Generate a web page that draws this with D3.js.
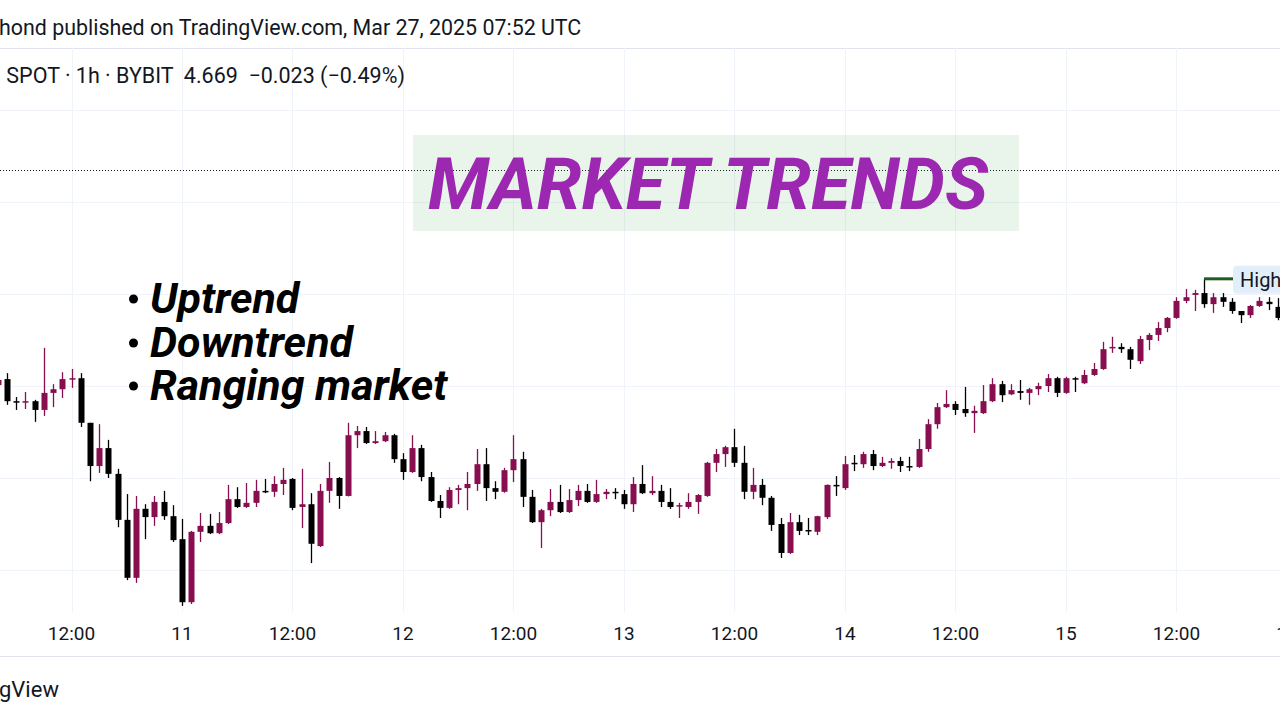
<!DOCTYPE html>
<html>
<head>
<meta charset="utf-8">
<script src="https://cdn.jsdelivr.net/npm/d3@7"></script>
<style>
	body { margin: 0; background: #fff; overflow: hidden; }
	#chart svg { display: block; font-family: Roboto, "Noto Sans", sans-serif; }
</style>
</head>
<body>
<div id="chart"></div>
<script>
/* hourly candles, first one opens Mar 10 04:00 UTC */
const firstCandle = Date.UTC(2025, 2, 10, 4);

const opens = [
	4.202, 4.215, 4.167, 4.165, 4.167, 4.148, 4.185, 4.193, 4.215, 4.217,
	4.120, 4.026, 4.065, 4.009, 3.909, 3.783, 3.933, 3.915, 3.948, 3.917,
	3.867, 3.730, 3.883, 3.896, 3.880, 3.902, 3.954, 3.937, 3.946, 3.972,
	3.970, 3.987, 3.998, 3.937, 3.943, 3.852, 3.972, 4.000, 3.961, 4.093,
	4.102, 4.076, 4.080, 4.093, 4.041, 4.013, 4.065, 4.002, 3.950, 3.935,
	3.974, 3.978, 3.987, 4.030, 3.978, 3.970, 4.017, 4.041, 3.959, 3.904,
	3.930, 3.948, 3.926, 3.952, 3.972, 3.948, 3.965, 3.970, 3.965, 3.943,
	3.987, 3.967, 3.972, 3.948, 3.939, 3.937, 3.948, 3.961, 4.033, 4.052,
	4.067, 4.033, 3.970, 3.985, 3.957, 3.900, 3.837, 3.904, 3.887, 3.883,
	3.915, 3.985, 3.978, 4.033, 4.030, 4.052, 4.026, 4.033, 4.037, 4.026,
	4.024, 4.063, 4.117, 4.154, 4.161, 4.150, 4.141, 4.141, 4.167, 4.204,
	4.182, 4.189, 4.185, 4.193, 4.200, 4.217, 4.185, 4.217, 4.206, 4.224,
	4.237, 4.283, 4.285, 4.280, 4.254, 4.300, 4.311, 4.326, 4.348, 4.385,
	4.398, 4.402, 4.378, 4.393, 4.383, 4.363, 4.354, 4.374, 4.383, 4.372
];
const highs = [
	4.220, 4.228, 4.176, 4.187, 4.170, 4.283, 4.204, 4.230, 4.237, 4.228,
	4.120, 4.117, 4.083, 4.020, 3.965, 3.961, 3.943, 3.961, 3.972, 3.941,
	3.911, 3.885, 3.924, 3.922, 3.926, 3.985, 3.980, 3.989, 3.996, 3.998,
	4.004, 4.022, 4.000, 4.020, 3.967, 3.987, 4.035, 4.002, 4.120, 4.113,
	4.111, 4.102, 4.100, 4.096, 4.054, 4.093, 4.072, 4.013, 3.963, 3.980,
	3.985, 4.013, 4.063, 4.065, 3.993, 4.022, 4.093, 4.057, 3.974, 3.933,
	3.976, 3.985, 3.976, 3.985, 3.987, 3.996, 3.976, 3.978, 3.974, 4.002,
	4.028, 4.004, 3.985, 3.978, 3.946, 3.967, 3.965, 4.035, 4.063, 4.070,
	4.107, 4.070, 4.022, 3.998, 3.961, 3.913, 3.924, 3.920, 3.913, 3.918,
	3.986, 4.004, 4.048, 4.050, 4.057, 4.061, 4.046, 4.043, 4.046, 4.046,
	4.085, 4.128, 4.163, 4.191, 4.167, 4.198, 4.157, 4.202, 4.217, 4.211,
	4.204, 4.213, 4.196, 4.207, 4.226, 4.220, 4.220, 4.220, 4.235, 4.250,
	4.296, 4.307, 4.293, 4.285, 4.309, 4.315, 4.339, 4.350, 4.393, 4.411,
	4.409, 4.433, 4.402, 4.402, 4.391, 4.363, 4.376, 4.393, 4.393, 4.391
];
const lows = [
	4.196, 4.159, 4.148, 4.150, 4.122, 4.135, 4.154, 4.174, 4.196, 4.111,
	3.993, 4.011, 4.000, 3.893, 3.778, 3.772, 3.867, 3.896, 3.909, 3.861,
	3.722, 3.726, 3.861, 3.878, 3.878, 3.900, 3.935, 3.935, 3.937, 3.967,
	3.959, 3.963, 3.930, 3.891, 3.815, 3.850, 3.946, 3.933, 3.960, 4.065,
	4.074, 4.074, 4.078, 4.033, 3.996, 4.011, 3.993, 3.948, 3.913, 3.933,
	3.943, 3.930, 3.972, 3.950, 3.954, 3.968, 3.991, 3.937, 3.902, 3.848,
	3.917, 3.924, 3.924, 3.939, 3.946, 3.946, 3.954, 3.954, 3.933, 3.926,
	3.965, 3.963, 3.937, 3.933, 3.913, 3.933, 3.922, 3.959, 4.013, 4.024,
	4.024, 3.954, 3.954, 3.941, 3.885, 3.826, 3.835, 3.876, 3.876, 3.876,
	3.911, 3.961, 3.974, 4.015, 4.022, 4.017, 4.024, 4.020, 4.013, 4.015,
	4.022, 4.057, 4.107, 4.152, 4.137, 4.133, 4.098, 4.139, 4.165, 4.165,
	4.180, 4.170, 4.159, 4.180, 4.187, 4.176, 4.183, 4.187, 4.204, 4.222,
	4.235, 4.272, 4.272, 4.237, 4.248, 4.278, 4.298, 4.317, 4.346, 4.380,
	4.363, 4.370, 4.359, 4.372, 4.357, 4.337, 4.348, 4.372, 4.365, 4.343
];
const closes = [
	4.213, 4.167, 4.165, 4.167, 4.148, 4.185, 4.193, 4.215, 4.217, 4.120,
	4.026, 4.065, 4.009, 3.909, 3.783, 3.933, 3.915, 3.948, 3.917, 3.865,
	3.730, 3.883, 3.896, 3.880, 3.902, 3.954, 3.937, 3.946, 3.972, 3.970,
	3.987, 3.996, 3.935, 3.943, 3.857, 3.972, 4.000, 3.961, 4.093, 4.102,
	4.076, 4.080, 4.093, 4.041, 4.013, 4.065, 4.002, 3.950, 3.935, 3.974,
	3.978, 3.987, 4.030, 3.978, 3.970, 4.017, 4.041, 3.959, 3.904, 3.930,
	3.948, 3.926, 3.952, 3.972, 3.948, 3.965, 3.970, 3.967, 3.943, 3.987,
	3.967, 3.972, 3.948, 3.937, 3.941, 3.948, 3.963, 4.033, 4.052, 4.067,
	4.033, 3.970, 3.985, 3.957, 3.898, 3.837, 3.904, 3.885, 3.885, 3.917,
	3.985, 3.983, 4.030, 4.030, 4.052, 4.026, 4.033, 4.037, 4.026, 4.024,
	4.063, 4.117, 4.154, 4.161, 4.148, 4.141, 4.146, 4.167, 4.204, 4.180,
	4.191, 4.185, 4.193, 4.200, 4.217, 4.185, 4.217, 4.215, 4.224, 4.237,
	4.280, 4.285, 4.280, 4.257, 4.302, 4.311, 4.326, 4.348, 4.385, 4.393,
	4.402, 4.378, 4.393, 4.383, 4.363, 4.354, 4.374, 4.385, 4.378, 4.348
];

const priceTicks = [3.8, 4.0, 4.2, 4.4, 4.6, 4.8];
const lastPrice = 4.669;

const headerText = "hond published on TradingView.com, Mar 27, 2025 07:52 UTC";
const legendText = " SPOT \u00b7 1h \u00b7 BYBIT  4.669  \u22120.023 (\u22120.49%)";
const titleText = "MARKET TRENDS";
const bullets = ["Uptrend", "Downtrend", "Ranging market"];
const footerText = "gView";

const width = 1280,
	height = 720,
	paneTop = 48,
	paneBottom = 612,
	barPx = 9.208,
	upColor = "#880e4f",
	downColor = "#000000",
	gridColor = "#f0f3fa",
	textColor = "#131722";

const candles = opens.map(function (o, i) {
	return {
		time: new Date(firstCandle + i * 3600 * 1000),
		open: o, high: highs[i], low: lows[i], close: closes[i]
	};
});

/* Mar 11 00:00 sits at x=182, one bar per hour */
var x = d3.scaleUtc()
	.domain([new Date(Date.UTC(2025, 2, 10)), new Date(Date.UTC(2025, 2, 16))])
	.range([182 - 24 * barPx, 182 + 120 * barPx]);

var y = d3.scaleLinear()
	.domain([3.8, 4.8])
	.range([570, 110]);

var svg = d3.select("#chart").append("svg")
	.attr("width", width)
	.attr("height", height);

svg.append("rect").attr("width", width).attr("height", height).attr("fill", "#fff");

svg.append("defs").append("clipPath").attr("id", "pane")
	.append("rect").attr("x", 0).attr("y", paneTop).attr("width", width).attr("height", paneBottom - paneTop);

/* header */
svg.append("text")
	.attr("x", -1).attr("y", 35)
	.attr("font-size", 21.4).attr("fill", textColor)
	.text(headerText);

svg.append("line")
	.attr("x1", 0).attr("x2", width).attr("y1", paneTop + 0.5).attr("y2", paneTop + 0.5)
	.attr("stroke", "#e0e3eb");

var pane = svg.append("g").attr("clip-path", "url(#pane)");

/* grid */
var timeTicks = x.ticks(d3.utcHour.every(12));

pane.selectAll(".vgrid")
	.data(timeTicks)
	.enter().append("line")
	.attr("class", "vgrid")
	.attr("x1", function (d) { return Math.round(x(d)) + 0.5; })
	.attr("x2", function (d) { return Math.round(x(d)) + 0.5; })
	.attr("y1", paneTop).attr("y2", paneBottom)
	.attr("stroke", gridColor);

pane.selectAll(".hgrid")
	.data(priceTicks)
	.enter().append("line")
	.attr("class", "hgrid")
	.attr("x1", 0).attr("x2", width)
	.attr("y1", function (d) { return Math.round(y(d)) + 0.5; })
	.attr("y2", function (d) { return Math.round(y(d)) + 0.5; })
	.attr("stroke", gridColor);

/* last price line */
pane.append("line")
	.attr("x1", 0).attr("x2", width)
	.attr("y1", Math.round(y(lastPrice)) + 0.5).attr("y2", Math.round(y(lastPrice)) + 0.5)
	.attr("stroke", textColor)
	.attr("stroke-dasharray", "1,2");

/* candles */
var bars = pane.selectAll(".candle")
	.data(candles)
	.enter().append("g")
	.attr("class", "candle")
	.attr("fill", function (d) { return d.close >= d.open ? upColor : downColor; })
	.attr("stroke", function (d) { return d.close >= d.open ? upColor : downColor; });

bars.append("line")
	.attr("x1", function (d) { return Math.round(x(d.time)) + 0.5; })
	.attr("x2", function (d) { return Math.round(x(d.time)) + 0.5; })
	.attr("y1", function (d) { return y(d.high); })
	.attr("y2", function (d) { return y(d.low); })
	.attr("stroke-width", 1.3);

bars.append("rect")
	.attr("stroke", "none")
	.attr("x", function (d) { return Math.round(x(d.time)) - 2.5; })
	.attr("width", 6)
	.attr("y", function (d) { return y(Math.max(d.open, d.close)); })
	.attr("height", function (d) { return Math.max(1.5, Math.abs(y(d.open) - y(d.close))); });

/* high marker of the visible range */
var peak = candles.reduce(function (a, b) { return b.high > a.high ? b : a; });
var hx = Math.round(x(peak.time)), hy = y(peak.high);

pane.append("line")
	.attr("x1", hx).attr("x2", hx + 30)
	.attr("y1", hy).attr("y2", hy)
	.attr("stroke", "#1b5e20").attr("stroke-width", 3);

pane.append("rect")
	.attr("x", hx + 29).attr("y", hy - 13).attr("width", 70).attr("height", 28)
	.attr("rx", 4).attr("fill", "#e3eefb");

pane.append("text")
	.attr("x", hx + 36).attr("y", hy + 8)
	.attr("font-size", 20).attr("fill", textColor)
	.text("High");

/* legend */
pane.append("text")
	.attr("x", 1).attr("y", 83)
	.attr("font-size", 21.5).attr("fill", textColor)
	.attr("xml:space", "preserve")
	.style("white-space", "pre")
	.text(legendText);

/* title box */
pane.append("rect")
	.attr("x", 413).attr("y", 135).attr("width", 606).attr("height", 96)
	.attr("fill", "#4caf50").attr("fill-opacity", 0.12);

pane.append("text")
	.attr("x", 708).attr("y", 209)
	.attr("text-anchor", "middle")
	.attr("font-size", 72).attr("font-weight", 700).attr("font-style", "italic")
	.attr("fill", "#9c27b0")
	.text(titleText);

/* bullet list */
var list = pane.selectAll(".bullet")
	.data(bullets)
	.enter().append("g")
	.attr("class", "bullet")
	.attr("transform", function (d, i) { return "translate(0," + [313, 357, 400][i] + ")"; });

list.append("circle")
	.attr("cx", 133.5).attr("cy", -14)
	.attr("r", 4.5)
	.attr("fill", "#000");

list.append("text")
	.attr("x", 150)
	.attr("font-size", 43).attr("font-weight", 700).attr("font-style", "italic")
	.attr("fill", "#000")
	.text(function (d) { return d; });

/* time axis */
svg.selectAll(".tlabel")
	.data(timeTicks)
	.enter().append("text")
	.attr("class", "tlabel")
	.attr("x", function (d) { return x(d); })
	.attr("y", 640)
	.attr("text-anchor", "middle")
	.attr("font-size", 19).attr("fill", textColor)
	.text(function (d) {
		return d.getUTCHours() === 0 ? d3.utcFormat("%-d")(d) : d3.utcFormat("%H:%M")(d);
	});

svg.append("line")
	.attr("x1", 0).attr("x2", width).attr("y1", 656.5).attr("y2", 656.5)
	.attr("stroke", "#e0e3eb");

svg.append("text")
	.attr("x", -1).attr("y", 697)
	.attr("font-size", 22).attr("fill", textColor)
	.text(footerText);
</script>
</body>
</html>
